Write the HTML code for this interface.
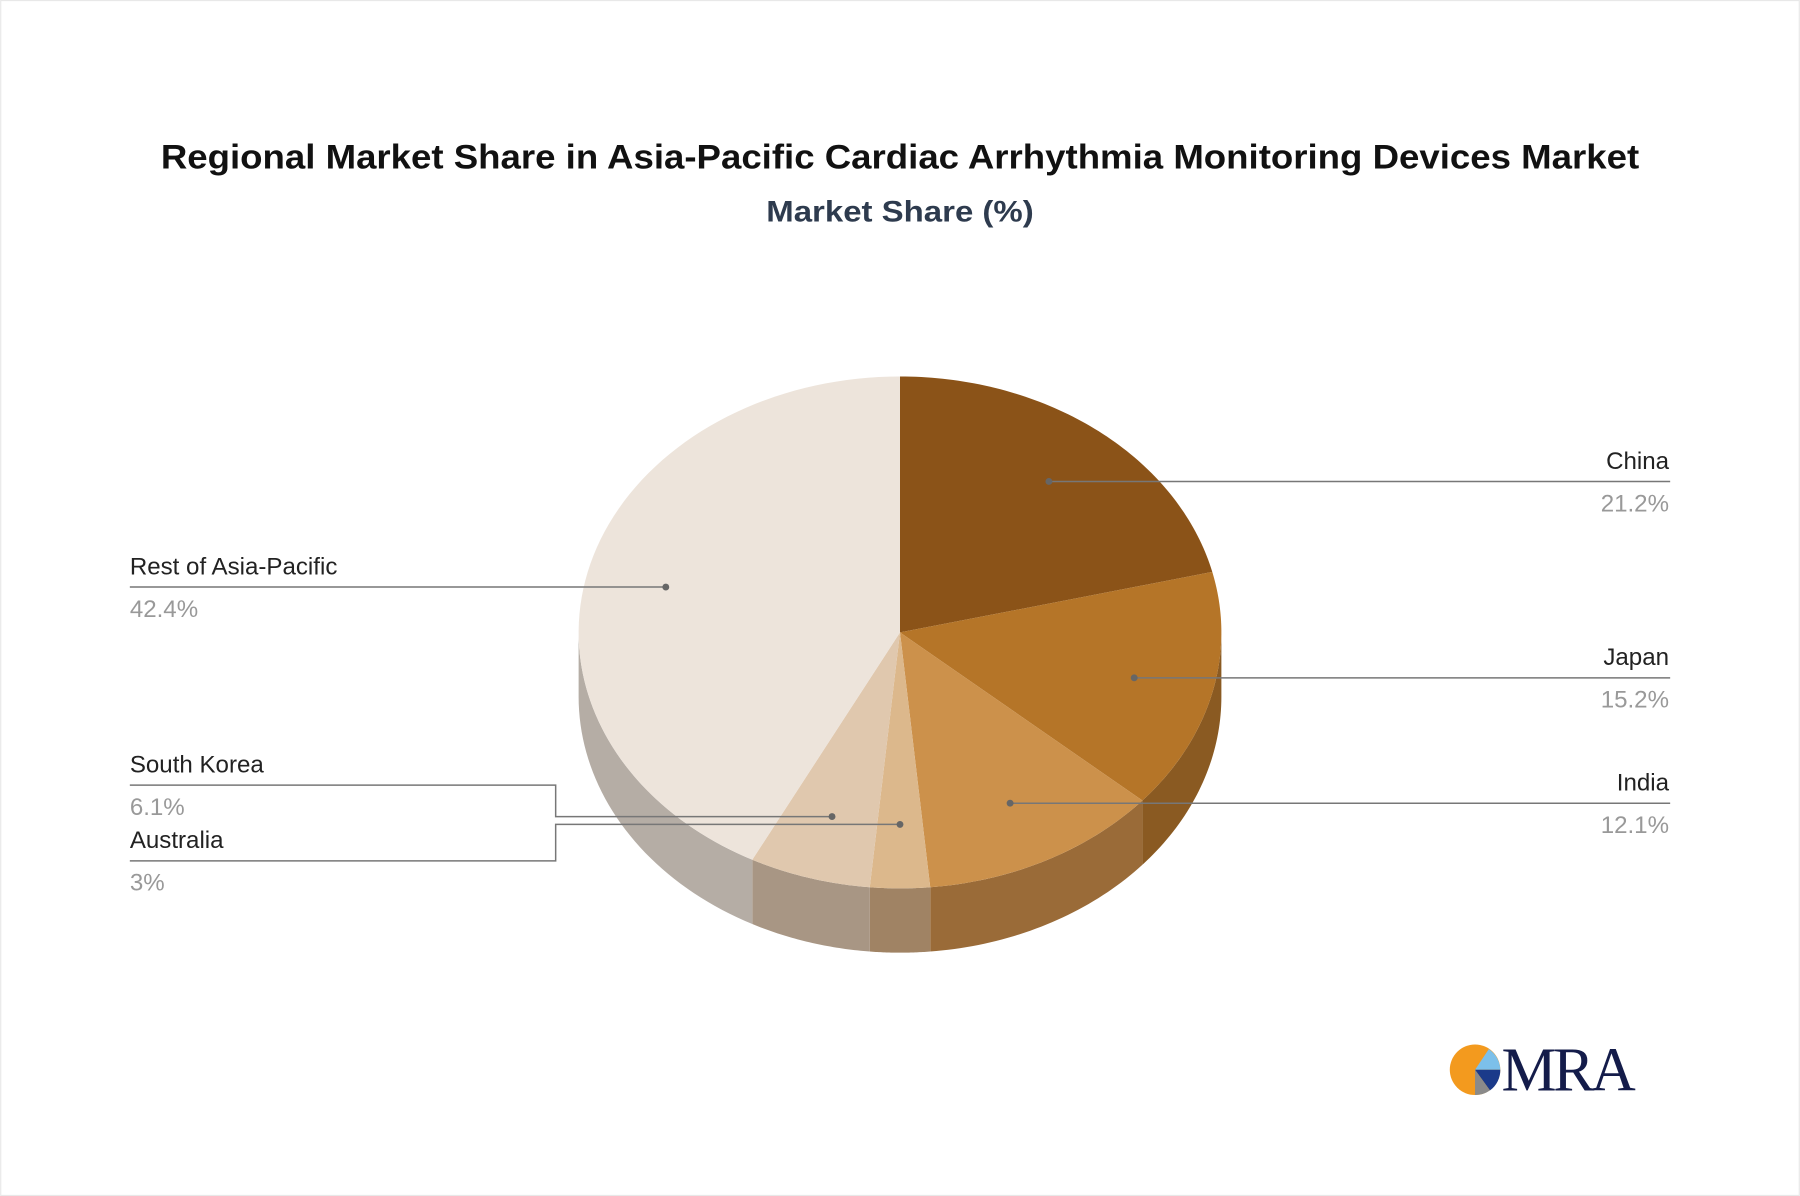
<!DOCTYPE html>
<html><head><meta charset="utf-8"><style>
html,body{margin:0;padding:0;background:#fff;}
svg{display:block;}
</style></head><body>
<svg id="chart" width="1800" height="1196" viewBox="0 0 1568 1042" xmlns="http://www.w3.org/2000/svg" font-family="Liberation Sans, sans-serif">
<rect x="0.5" y="0.5" width="1567" height="1041" fill="#fff" stroke="#e8e8e8"/>
<text x="784" y="147" text-anchor="middle" font-size="30" font-weight="bold" fill="#111" textLength="1288" lengthAdjust="spacingAndGlyphs">Regional Market Share in Asia-Pacific Cardiac Arrhythmia Monitoring Devices Market</text>
<text x="784" y="193" text-anchor="middle" font-size="26" font-weight="bold" fill="#2e3b4e" textLength="233" lengthAdjust="spacingAndGlyphs">Market Share (%)</text>
<g id="sides"></g>
<g id="tops"></g>
<g id="labels"></g>
<g>
<circle cx="1285" cy="932" r="22" fill="#f39a1e"/>
<path d="M1285 932 L1297 914 A22 22 0 0 1 1307 932 Z" fill="#7cc0ea"/>
<path d="M1285 932 L1307 932 A22 22 0 0 1 1298 950 Z" fill="#1b3a8a"/>
<path d="M1285 932 L1298 950 A22 22 0 0 1 1285 954 Z" fill="#8a8a8a"/>
<text x="1308" y="950" font-family="Liberation Serif, serif" font-size="54" fill="#141c4a" letter-spacing="-3">MRA</text>
</g>
</svg>
<script>
const categories=["China","Japan","India","Australia","South Korea","Rest of Asia-Pacific"];
const values=[21.2,15.2,12.1,3,6.1,42.4];
const valueLabels=["21.2%","15.2%","12.1%","3%","6.1%","42.4%"];
const topColors=["#8b5318","#b57528","#cc914b","#dcb88c","#e0c8ae","#ede4db"];
const sideColors=["#6e4313","#8a5a22","#9a6b38","#a08364","#a89684","#b5ada5"];
const cx=784,cy=551,rx=280,ry=223,depth=56;
const NS="http://www.w3.org/2000/svg";
function pt(a,dy){return [cx+rx*Math.sin(a),cy-ry*Math.cos(a)+(dy||0)];}
function arc(a0,a1,dy,n){let s=[];for(let i=0;i<=n;i++){const a=a0+(a1-a0)*i/n;const p=pt(a,dy);s.push(p[0].toFixed(2)+" "+p[1].toFixed(2));}return s;}
const total=values.reduce((a,b)=>a+b,0);
let acc=0;const angles=[];
values.forEach(v=>{const a0=acc/total*2*Math.PI;acc+=v;angles.push([a0,acc/total*2*Math.PI]);});
const sides=document.getElementById('sides'),tops=document.getElementById('tops'),labels=document.getElementById('labels');
angles.forEach(([a0,a1],i)=>{
  const s0=Math.max(a0,Math.PI/2),s1=Math.min(a1,1.5*Math.PI);
  if(s1>s0){
    const top=arc(s0,s1,0,40),bot=arc(s1,s0,depth,40);
    const p=document.createElementNS(NS,'path');
    p.setAttribute('d','M'+top.join(' L')+' L'+bot.join(' L')+' Z');
    p.setAttribute('fill',sideColors[i]);
    
    
    sides.appendChild(p);
  }
  const t=arc(a0,a1,0,80);
  const q=document.createElementNS(NS,'path');
  q.setAttribute('d','M'+cx+' '+cy+' L'+t.join(' L')+' Z');
  q.setAttribute('fill',topColors[i]);
  
  
  tops.appendChild(q);
});
function el(tag,attrs,txt){const e=document.createElementNS(NS,tag);for(const k in attrs)e.setAttribute(k,attrs[k]);if(txt!==undefined)e.textContent=txt;labels.appendChild(e);return e;}
const leftLabelY={"South Korea":684,"Australia":750};
angles.forEach(([a0,a1],i)=>{
  const m=(a0+a1)/2;
  const f=0.75;
  const d=[cx+rx*f*Math.sin(m),cy-ry*f*Math.cos(m)];
  const right=Math.sin(m)>0 && i<3;
  let path,tx,anchor,ly;
  if(right){ly=d[1];path='M'+d[0]+' '+ly+' L1455 '+ly;tx=1454;anchor='end';}
  else if(!(categories[i] in leftLabelY)){ly=d[1];path='M'+d[0]+' '+ly+' L113 '+ly;tx=113;anchor='start';}
  else{ly=leftLabelY[categories[i]];
    path='M'+d[0]+' '+d[1]+' L484 '+d[1]+' L484 '+ly+' L113 '+ly;
    tx=113;anchor='start';}
  const ln=el('path',{d:path,fill:'none',stroke:'#777','stroke-width':1.3});
  
  
  const dot=el('circle',{cx:d[0],cy:d[1],r:3,fill:'#666'});
  
  
  const n=el('text',{x:tx,y:ly-11,'text-anchor':anchor,'font-size':21,fill:'#222'},categories[i]);
  
  
  const v=el('text',{x:tx,y:ly+26,'text-anchor':anchor,'font-size':21,fill:'#999'},valueLabels[i]);
  
  
});
</script>
</body></html>
